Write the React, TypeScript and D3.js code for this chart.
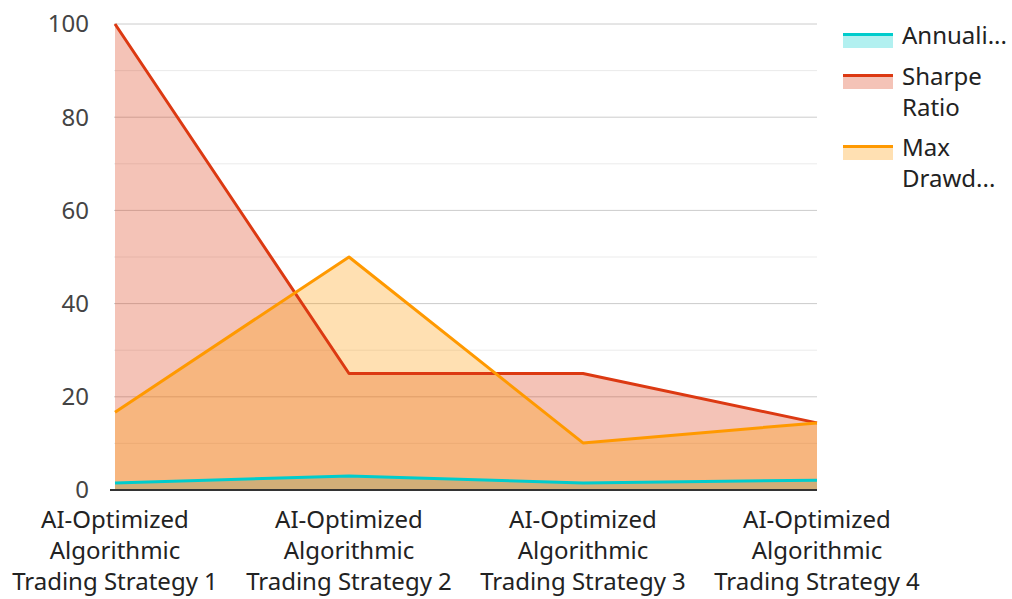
import React from "react";
import * as d3 from "d3";

const categories = [
  ["AI-Optimized", "Algorithmic", "Trading Strategy 1"],
  ["AI-Optimized", "Algorithmic", "Trading Strategy 2"],
  ["AI-Optimized", "Algorithmic", "Trading Strategy 3"],
  ["AI-Optimized", "Algorithmic", "Trading Strategy 4"],
];
const annualized = [1.5, 3.0, 1.5, 2.1];
const sharpe = [100, 25, 25, 14.4];
const maxDrawdown = [16.7, 50, 10.1, 14.4];
const yTicks = [0, 20, 40, 60, 80, 100];
const minorTicks = [10, 30, 50, 70, 90];

const series = [
  { name: ["Annuali..."], values: annualized, color: "#00cccc" },
  { name: ["Sharpe", "Ratio"], values: sharpe, color: "#dc3912" },
  { name: ["Max", "Drawd..."], values: maxDrawdown, color: "#ff9900" },
];

const W = 1012, H = 599;
const left = 115, right = 817, top = 24, bottom = 490;
const font = "'Noto Sans', sans-serif";
const fs = 24;

export default function App() {
  const x = d3.scalePoint<number>().domain([0, 1, 2, 3]).range([left, right]);
  const y = d3.scaleLinear().domain([0, 100]).range([bottom, top]);
  const area = (vals: number[]) =>
    d3.area<number>().x((_, i) => x(i)!).y0(y(0)).y1((d) => y(d))(vals) || "";
  const line = (vals: number[]) =>
    d3.line<number>().x((_, i) => x(i)!).y((d) => y(d))(vals) || "";
  const legendY = [36, 77, 148];
  return (
    <svg width={W} height={H} style={{ position: "absolute", left: 0, top: 0, background: "#fff" }}>
      {minorTicks.map((t) => (
        <line key={"m" + t} x1={left - 1} x2={right} y1={y(t)} y2={y(t)} stroke="#ebebeb" strokeWidth={1} />
      ))}
      {yTicks.filter((t) => t > 0).map((t) => (
        <line key={"g" + t} x1={left - 1} x2={right} y1={y(t)} y2={y(t)} stroke="#cccccc" strokeWidth={1} />
      ))}
      {series.map((s) => (
        <path key={"a" + s.color} d={area(s.values)} fill={s.color} fillOpacity={0.3} />
      ))}
      {series.map((s) => (
        <path key={"l" + s.color} d={line(s.values)} fill="none" stroke={s.color} strokeWidth={3} strokeLinejoin="round" />
      ))}
      <line x1={left - 5} x2={right} y1={bottom} y2={bottom} stroke="#333" strokeWidth={2} />
      {yTicks.map((t) => (
        <text key={"t" + t} x={89} y={y(t)} dy="0.35em" textAnchor="end" fontFamily={font} fontSize={fs} fill="#444">
          {t}
        </text>
      ))}
      {categories.map((c, i) => (
        <text key={"c" + i} x={x(i)} y={520} textAnchor="middle" fontFamily={font} fontSize={fs} fill="#222">
          {c.map((l, j) => (
            <tspan key={j} x={x(i)} dy={j === 0 ? "0.35em" : 31}>
              {l}
            </tspan>
          ))}
        </text>
      ))}
      {series.map((s, i) => (
        <g key={"lg" + i} transform={`translate(843,${legendY[i]})`}>
          <rect x={0} y={-3} width={50} height={15} fill={s.color} fillOpacity={0.3} />
          <rect x={0} y={-3} width={50} height={3} fill={s.color} />
          {s.name.map((n, j) => (
            <text key={j} x={59} y={j * 31} dy="0.35em" fontFamily={font} fontSize={fs} fill="#222">
              {n}
            </text>
          ))}
        </g>
      ))}
    </svg>
  );
}
